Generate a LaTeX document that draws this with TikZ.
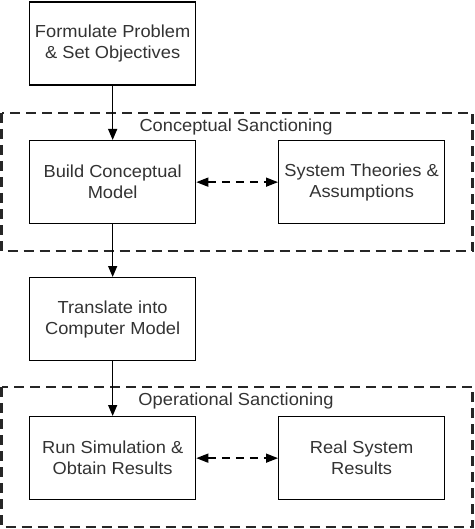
\documentclass[tikz,border=0pt]{standalone}
\usepackage{fontspec}
\setmainfont{Liberation Sans}[FakeStretch=1.05]
\usetikzlibrary{arrows.meta}
\begin{document}
\begin{tikzpicture}[x=1pt,y=-1pt,
  stepbox/.style={draw=black,line width=1.3pt,minimum width=166pt,minimum height=83pt,inner sep=0pt,anchor=north west,align=center,text=black!80,font=\fontsize{17.4}{21}\selectfont},
  frame/.style={draw=black!85,line width=2.2pt,dash pattern=on 10pt off 6pt},
  framelabel/.style={text=black!80,font=\fontsize{17.4}{21}\selectfont,inner sep=0pt},
  flow/.style={line width=1.3pt,-{Triangle[length=11pt,width=9pt]}},
  link/.style={line width=1.5pt,dash pattern=on 8pt off 6pt,{Triangle[length=12pt,width=9pt]}-{Triangle[length=12pt,width=9pt]}}
]
\useasboundingbox (0,0) rectangle (474,529);
\draw[frame] (1.5,113) rectangle (472.5,251);
\draw[frame] (1.5,387) rectangle (472.5,527);
\node[framelabel] (lc) at (236,127) {Conceptual Sanctioning};
\node[framelabel] (lo) at (236,401) {Operational Sanctioning};
\node[stepbox] (f) at (29,1.5) {Formulate Problem\\\& Set Objectives};
\node[stepbox] (b) at (29,140) {Build Conceptual\\Model};
\node[stepbox] (s) at (278,140) {System Theories \&\\Assumptions};
\node[stepbox] (t) at (29,277) {Translate into\\Computer Model};
\node[stepbox] (r) at (29,416) {Run Simulation \&\\Obtain Results};
\node[stepbox] (rs) at (278,416) {Real System\\Results};
\draw[flow] (f) -- (b);
\draw[flow] (b) -- (t);
\draw[flow] (t) -- (r);
\draw[link] (b) -- (s);
\draw[link] (r) -- (rs);
\end{tikzpicture}
\end{document}
